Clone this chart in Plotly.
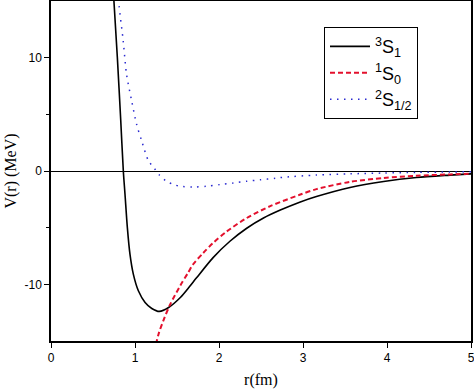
import plotly.graph_objects as go

# ---- data ----
r_3s1 = [0.745, 0.79, 0.83, 0.861, 0.881, 0.909, 0.94, 0.98, 1.04, 1.12, 1.20, 1.29, 1.40,
         1.54, 1.65, 1.73, 1.93, 2.13, 2.33, 2.53, 2.73, 2.96, 3.16, 3.56, 3.96, 4.35, 4.75, 5.0]
v_3s1 = [15.5, 10, 4.5, 0, -2.05, -5.0, -7.34, -9.1, -10.57, -11.6, -12.13, -12.39, -12.04,
         -11.16, -10.2, -9.45, -7.64, -6.2, -5.05, -4.15, -3.45, -2.75, -2.25, -1.45, -0.92,
         -0.57, -0.36, -0.25]

r_1s0 = [1.25, 1.28, 1.34, 1.42, 1.54, 1.63, 1.69, 1.81, 1.93, 2.09, 2.33, 2.61, 2.96, 3.16,
         3.56, 3.96, 4.35, 4.75, 5.0]
v_1s0 = [-15.3, -14.4, -13.15, -11.75, -10.1, -9.0, -8.25, -7.25, -6.35, -5.35, -4.15, -3.1,
         -2.1, -1.6, -0.96, -0.62, -0.42, -0.3, -0.24]

r_2s12 = [0.78, 0.81, 0.86, 0.90, 0.96, 1.02, 1.08, 1.16, 1.23, 1.29, 1.37, 1.45, 1.54,
          1.69, 1.85, 2.01, 2.17, 2.33, 2.49, 2.67, 2.77, 3.16, 3.56, 3.96, 4.35, 4.75, 5.0]
v_2s12 = [17, 14.6, 11.45, 8.5, 6.2, 4.1, 2.65, 0.9, 0.24, -0.35, -0.88, -1.17, -1.35,
          -1.41, -1.35, -1.2, -1.06, -0.9, -0.78, -0.64, -0.55, -0.36, -0.25, -0.18,
          -0.12, -0.09, -0.06]

x_ticks = [0, 1, 2, 3, 4, 5]
x_ticklabels = ["0", "1", "2", "3", "4", "5"]
y_ticks = [-10, 0, 10]
y_ticklabels = ["-10", "0", "10"]

names = ["<sup>3</sup>S<sub>1</sub>", "<sup>1</sup>S<sub>0</sub>", "<sup>2</sup>S<sub>1/2</sub>"]

fig = go.Figure()
fig.add_trace(go.Scatter(x=r_3s1, y=v_3s1, mode="lines", name=names[0],
                         line=dict(color="black", width=1.6, shape="spline", smoothing=0.8)))
fig.add_trace(go.Scatter(x=r_1s0, y=v_1s0, mode="lines", name=names[1],
                         line=dict(color="#e3102d", width=2, dash="5px,3px", shape="spline", smoothing=0.8)))
fig.add_trace(go.Scatter(x=r_2s12, y=v_2s12, mode="lines", name=names[2],
                         line=dict(color="#2a2ad0", width=1.5, dash="1.5px,5.5px", shape="spline", smoothing=0.8)))

fig.update_layout(
    width=474, height=390,
    margin=dict(l=51, r=3, t=1, b=49),
    paper_bgcolor="white", plot_bgcolor="white",
    font=dict(family="Liberation Sans, Arial", size=12, color="black"),
    showlegend=True,
    legend=dict(x=0.65, y=0.923, xanchor="left", yanchor="top",
                bordercolor="black", borderwidth=1, bgcolor="white",
                font=dict(family="Liberation Sans, Arial", size=18),
                tracegroupgap=0, itemwidth=40),
)
fig.update_xaxes(
    range=[0, 5], tickvals=x_ticks, ticktext=x_ticklabels,
    ticks="outside", ticklen=5, tickwidth=1.3, tickcolor="black",
    ticklabeloverflow="allow",
    showline=True, linecolor="black", linewidth=1.5, mirror=True,
    showgrid=False, zeroline=False, automargin=False,
    title=dict(text="r(fm)", font=dict(family="Liberation Serif, Times New Roman", size=16), standoff=10),
)
fig.update_yaxes(
    range=[-15, 15], tickvals=y_ticks, ticktext=y_ticklabels,
    ticks="outside", ticklen=5, tickwidth=1.3, tickcolor="black",
    minor=dict(tickvals=[-5, 5], ticks="outside", ticklen=3, tickwidth=1.3, tickcolor="black"),
    showline=True, linecolor="black", linewidth=1.5, mirror=True,
    showgrid=False, zeroline=True, zerolinecolor="black", zerolinewidth=1, automargin=False,
    title=dict(text="V(r) (MeV)", font=dict(family="Liberation Serif, Times New Roman", size=16), standoff=4),
)

fig.write_html("out.html", config={"displayModeBar": False},
               post_script="document.body.style.margin='0';")
